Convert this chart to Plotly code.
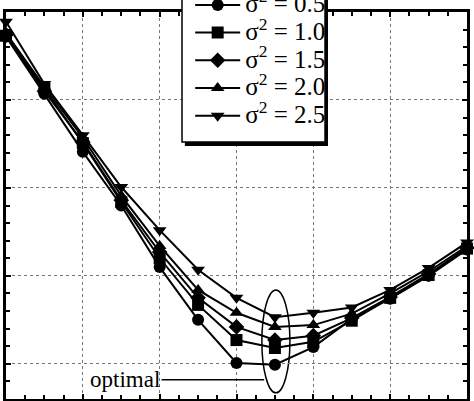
import plotly.graph_objects as go

# data
x = [0, 1, 2, 3, 4, 5, 6, 7, 8, 9, 10, 11, 12]
sigma_labels = ["0.5", "1.0", "1.5", "2.0", "2.5"]
y_s05 = [4.72, 4.07, 3.41, 2.80, 2.10, 1.50, 1.01, 0.99, 1.19, 1.51, 1.74, 2.00, 2.30]
y_s10 = [4.73, 4.13, 3.51, 2.84, 2.20, 1.67, 1.27, 1.18, 1.25, 1.49, 1.75, 2.01, 2.31]
y_s15 = [4.74, 4.10, 3.52, 2.86, 2.27, 1.75, 1.42, 1.27, 1.32, 1.52, 1.76, 2.02, 2.32]
y_s20 = [4.76, 4.15, 3.57, 2.91, 2.34, 1.84, 1.58, 1.42, 1.44, 1.57, 1.80, 2.05, 2.34]
y_s25 = [4.89, 4.18, 3.60, 3.01, 2.52, 2.07, 1.75, 1.53, 1.58, 1.64, 1.84, 2.09, 2.38]
series = [y_s05, y_s10, y_s15, y_s20, y_s25]
symbols = ["circle", "square", "diamond", "triangle-up", "triangle-down"]

serif = "Liberation Serif, Times New Roman, serif"

fig = go.Figure()
for lab, ys, sym in zip(sigma_labels, series, symbols):
    # bigger glyphs than the legend row height, as in the original
    name = '<span style="font-size:25px">σ<sup>2</sup> = ' + lab + '</span>'
    fig.add_trace(go.Scatter(
        x=x, y=ys, mode="lines+markers", name=name,
        line=dict(color="black", width=2),
        marker=dict(symbol=sym, size=12, color="black"),
        cliponaxis=False,
    ))

# ellipse round the optimal points
fig.add_shape(type="circle", xref="x", yref="y", x0=6.66, x1=7.39, y0=0.67, y1=1.84,
              line=dict(color="black", width=1.5), layer="below")

# legend box with its shadow (the legend itself is transparent)
fig.add_shape(type="rect", xref="paper", yref="paper", x0=0.388, x1=0.6985, y0=0.654, y1=1.1,
              fillcolor="black", line=dict(width=0), layer="above")
fig.add_shape(type="rect", xref="paper", yref="paper", x0=0.3818, x1=0.692, y0=0.664, y1=1.1,
              fillcolor="white", line=dict(color="black", width=1.5), layer="above")

fig.add_annotation(x=6.72, y=0.82, ax=3.1, ay=0.82, axref="x", ayref="y",
                   text="optimal", showarrow=True, arrowhead=0, arrowwidth=1.5,
                   arrowcolor="black", font=dict(family=serif, size=23, color="black"))

axis_common = dict(showline=True, linewidth=3, linecolor="black", mirror="allticks",
                   ticks="inside", ticklen=5, tickwidth=1.5, tickcolor="black",
                   showticklabels=False, showgrid=True, gridcolor="#777777",
                   griddash="dot", gridwidth=1, zeroline=False)

fig.update_xaxes(range=[0, 12], tick0=0, dtick=2,
                 minor=dict(ticks="inside", ticklen=4, dtick=0.5, tickcolor="black", showgrid=False),
                 **axis_common)
fig.update_yaxes(range=[0.6, 5], tick0=0, dtick=1,
                 minor=dict(ticks="inside", ticklen=4, dtick=0.2, tickcolor="black", showgrid=False),
                 **axis_common)

fig.update_layout(
    width=474, height=401,
    margin=dict(l=6, r=7, t=12, b=2, autoexpand=False),
    plot_bgcolor="white", paper_bgcolor="white",
    showlegend=True,
    legend=dict(x=0.3995, y=0.682, xanchor="left", yanchor="bottom",
                bgcolor="rgba(0,0,0,0)", borderwidth=0,
                itemwidth=45, font=dict(family=serif, size=19, color="black")),
)

# page body has an 8px default margin; drop it so the figure sits at the corner
fig.write_html("out.html", config={"displayModeBar": False},
               post_script="document.body.style.margin='0';")
